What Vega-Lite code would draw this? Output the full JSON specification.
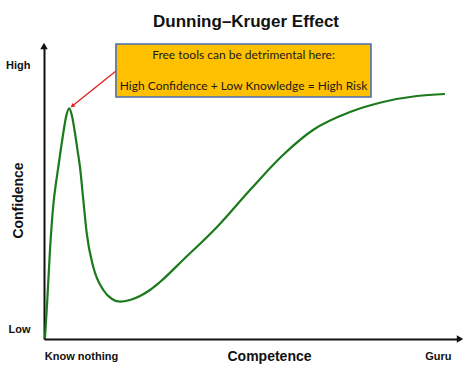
{
  "$schema": "https://vega.github.io/schema/vega-lite/v6.json",
  "width": 416,
  "height": 293,
  "autosize": {"type": "none"},
  "padding": {"left": 44, "top": 46, "right": 14, "bottom": 30},
  "background": "white",
  "config": {"view": {"stroke": null}},
  "title": {
    "text": "Dunning–Kruger Effect",
    "font": "Liberation Sans",
    "fontSize": 17,
    "fontWeight": "bold",
    "color": "#111111",
    "anchor": "middle",
    "dx": -6,
    "dy": 22,
    "baseline": "alphabetic",
    "offset": 21
  },
  "layer": [
    {
      "data": {"values": [
        {"x": 0.24, "y": 0.34}, {"x": 0.79, "y": 13.31}, {"x": 1.44, "y": 30.38},
        {"x": 2.24, "y": 45.73}, {"x": 2.88, "y": 53.24}, {"x": 3.44, "y": 58.70},
        {"x": 4.09, "y": 65.19}, {"x": 4.64, "y": 70.31}, {"x": 5.29, "y": 75.77},
        {"x": 6.08, "y": 78.74}, {"x": 6.73, "y": 76.11}, {"x": 7.45, "y": 70.31},
        {"x": 8.05, "y": 64.51}, {"x": 8.65, "y": 58.70}, {"x": 9.45, "y": 47.44},
        {"x": 10.26, "y": 36.18}, {"x": 11.85, "y": 24.57}, {"x": 14.25, "y": 16.72},
        {"x": 16.35, "y": 13.65}, {"x": 18.27, "y": 12.73}, {"x": 20.67, "y": 13.31},
        {"x": 23.08, "y": 14.68}, {"x": 25.48, "y": 16.72}, {"x": 27.88, "y": 19.45},
        {"x": 33.41, "y": 26.96}, {"x": 41.59, "y": 38.23}, {"x": 49.52, "y": 50.85},
        {"x": 57.45, "y": 62.80}, {"x": 64.66, "y": 71.33}, {"x": 73.56, "y": 77.47},
        {"x": 81.49, "y": 80.89}, {"x": 89.66, "y": 82.94}, {"x": 96.39, "y": 83.62}
      ]},
      "mark": {"type": "line", "color": "#1B7A1B", "strokeWidth": 2.2, "interpolate": "monotone", "clip": false},
      "encoding": {
        "x": {
          "field": "x", "type": "quantitative",
          "scale": {"domain": [0, 100], "nice": false, "zero": false},
          "axis": {
            "values": [8.9, 94.7],
            "labelExpr": "datum.value < 50 ? 'Know nothing' : 'Guru'",
            "labelFont": "Liberation Sans", "labelFontSize": 11, "labelFontWeight": "bold", "labelColor": "#111111",
            "labelBaseline": "middle", "labelPadding": 17, "labelFlush": false, "labelOverlap": false,
            "ticks": false, "grid": false,
            "domainColor": "#111111", "domainWidth": 2,
            "title": "Competence",
            "titleFont": "Liberation Sans", "titleFontSize": 14, "titleFontWeight": "bold", "titleColor": "#111111",
            "titleX": 225, "titleY": 17, "titleBaseline": "middle", "titleAlign": "center"
          }
        },
        "y": {
          "field": "y", "type": "quantitative",
          "scale": {"domain": [0, 100], "nice": false, "zero": false},
          "axis": {
            "values": [3.2, 93.2],
            "labelExpr": "datum.value < 50 ? 'Low' : 'High'",
            "labelFont": "Liberation Sans", "labelFontSize": 11, "labelFontWeight": "bold", "labelColor": "#111111",
            "labelBaseline": "middle", "labelPadding": 14, "labelFlush": false, "labelOverlap": false,
            "ticks": false, "grid": false,
            "domainColor": "#111111", "domainWidth": 2,
            "title": "Confidence",
            "titleFont": "Liberation Sans", "titleFontSize": 14, "titleFontWeight": "bold", "titleColor": "#111111",
            "titleAngle": -90, "titleX": -26, "titleY": 154, "titleBaseline": "middle", "titleAlign": "center"
          }
        }
      }
    },
    {
      "data": {"values": [{"x": 0, "y": 100}]},
      "mark": {"type": "point", "shape": "triangle-up", "filled": true, "color": "#111111", "size": 55, "opacity": 1, "clip": false},
      "encoding": {"x": {"field": "x", "type": "quantitative"}, "y": {"field": "y", "type": "quantitative"}}
    },
    {
      "data": {"values": [{"x": 100, "y": 0}]},
      "mark": {"type": "point", "shape": "triangle-right", "filled": true, "color": "#111111", "size": 55, "opacity": 1, "clip": false},
      "encoding": {"x": {"field": "x", "type": "quantitative"}, "y": {"field": "y", "type": "quantitative"}}
    },
    {
      "data": {"values": [{"x": 17.3, "y": 91.5, "x2": 6.8, "y2": 79.5}]},
      "mark": {"type": "rule", "color": "#E0201E", "strokeWidth": 1.3, "clip": false},
      "encoding": {
        "x": {"field": "x", "type": "quantitative"}, "y": {"field": "y", "type": "quantitative"},
        "x2": {"field": "x2"}, "y2": {"field": "y2"}
      }
    },
    {
      "data": {"values": [{"x": 6.8, "y": 79.5}]},
      "mark": {"type": "point", "shape": "triangle-up", "filled": true, "color": "#E0201E", "size": 22, "opacity": 1, "angle": 231, "clip": false},
      "encoding": {"x": {"field": "x", "type": "quantitative"}, "y": {"field": "y", "type": "quantitative"}}
    },
    {
      "data": {"values": [{"x": 17.3, "x2": 78.6, "y": 100.7, "y2": 82.6}]},
      "mark": {"type": "rect", "fill": "#FFC000", "stroke": "#4A6DB0", "strokeWidth": 1.6, "clip": false},
      "encoding": {
        "x": {"field": "x", "type": "quantitative"}, "x2": {"field": "x2"},
        "y": {"field": "y", "type": "quantitative"}, "y2": {"field": "y2"}
      }
    },
    {
      "data": {"values": [
        {"x": 47.96, "y": 96.9, "text": "Free tools can be detrimental here:"},
        {"x": 47.96, "y": 86.3, "text": "High Confidence + Low Knowledge = High Risk"}
      ]},
      "mark": {"type": "text", "font": "Lato", "fontSize": 12, "color": "#1a1a1a", "align": "center", "baseline": "middle", "clip": false},
      "encoding": {
        "x": {"field": "x", "type": "quantitative"}, "y": {"field": "y", "type": "quantitative"},
        "text": {"field": "text"}
      }
    }
  ]
}
